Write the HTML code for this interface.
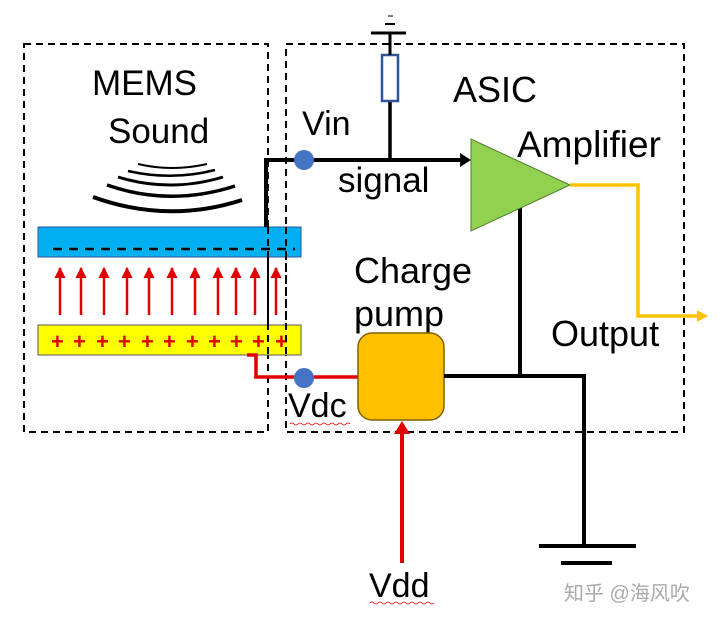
<!DOCTYPE html>
<html><head><meta charset="utf-8"><style>
html,body{margin:0;padding:0;background:#fff;}
svg{display:block;}
text{font-family:"Liberation Sans","Noto Sans CJK SC",sans-serif;}
</style></head><body>
<svg width="717" height="622" viewBox="0 0 717 622" xmlns="http://www.w3.org/2000/svg">
<defs>
<marker id="ar" viewBox="0 0 10 10" refX="9" refY="5" markerWidth="4.5" markerHeight="4.5" orient="auto"><path d="M0,0L10,5L0,10z" fill="#e00000"/></marker>
</defs>
<rect x="24" y="44" width="244" height="388" fill="none" stroke="#000" stroke-width="2" stroke-dasharray="7,5"/>
<rect x="286" y="44" width="398" height="388" fill="none" stroke="#000" stroke-width="2" stroke-dasharray="7,5"/>
<g fill="#000">
<text x="92" y="95" font-size="35">MEMS</text>
<text x="108" y="143" font-size="35">Sound</text>
<text x="453" y="102" font-size="36">ASIC</text>
<text x="302" y="135" font-size="34">Vin</text>
<text x="338" y="192" font-size="35">signal</text>
<text x="517" y="157" font-size="37">Amplifier</text>
<text x="354" y="283" font-size="36">Charge</text>
<text x="354" y="326" font-size="36">pump</text>
<text x="551" y="346" font-size="36">Output</text>
<text x="288" y="417" font-size="34">Vdc</text>
<text x="369" y="597" font-size="34">Vdd</text>
</g>
<path d="M290,424 q2,-2 4,0 t4,0 t4,0 t4,0 t4,0 t4,0 t4,0 t4,0 t4,0 t4,0 t4,0 t4,0 t4,0 t4,0 t4,0" stroke="#d00" fill="none" stroke-width="0.8"/>
<path d="M370,603 q2,-2 4,0 t4,0 t4,0 t4,0 t4,0 t4,0 t4,0 t4,0 t4,0 t4,0 t4,0 t4,0 t4,0 t4,0 t4,0 t4,0" stroke="#d00" fill="none" stroke-width="0.8"/>
<g fill="none" stroke="#000">
<path d="M138,164 Q172,172 207,164" stroke-width="2"/>
<path d="M128,171 Q172,181 215,170" stroke-width="2.5"/>
<path d="M118,177 Q170,193 223,177" stroke-width="3"/>
<path d="M107,185 Q170,207 235,186" stroke-width="3.5"/>
<path d="M93,197 Q168,224 242,200" stroke-width="4"/>
</g>
<rect x="38" y="227" width="263" height="30" fill="#00b0f0" stroke="#2f5597" stroke-width="1"/>
<line x1="53" y1="249" x2="295" y2="249" stroke="#000" stroke-width="2.5" stroke-dasharray="9,7"/>
<rect x="38" y="325" width="263" height="30" fill="#ffff00" stroke="#555" stroke-width="1"/>
<g font-size="22" font-weight="bold" style="fill:#e00000">
<text x="51" y="349">+</text><text x="73" y="349">+</text><text x="96" y="349">+</text><text x="118" y="349">+</text><text x="141" y="349">+</text><text x="163" y="349">+</text><text x="186" y="349">+</text><text x="208" y="349">+</text><text x="230" y="349">+</text><text x="252" y="349">+</text><text x="275" y="349">+</text>
</g>
<g stroke="#e00000" stroke-width="2.5" marker-end="url(#ar)">
<line x1="60" y1="315" x2="60" y2="268"/><line x1="81" y1="315" x2="81" y2="268"/><line x1="104" y1="315" x2="104" y2="268"/><line x1="127" y1="315" x2="127" y2="268"/><line x1="149" y1="315" x2="149" y2="268"/><line x1="172" y1="315" x2="172" y2="268"/><line x1="195" y1="315" x2="195" y2="268"/><line x1="218" y1="315" x2="218" y2="268"/><line x1="236" y1="315" x2="236" y2="268"/><line x1="255" y1="315" x2="255" y2="268"/><line x1="276" y1="315" x2="276" y2="268"/>
</g>
<line x1="268" y1="227" x2="268" y2="357" stroke="#000" stroke-width="2" stroke-dasharray="7,5"/>
<line x1="286" y1="227" x2="286" y2="357" stroke="#000" stroke-width="2" stroke-dasharray="7,5"/>
<polyline points="266,227 266,160 462,160" fill="none" stroke="#000" stroke-width="4"/>
<path d="M460,153 L471,160 L460,167z" fill="#000"/>
<line x1="390" y1="160" x2="390" y2="101" stroke="#000" stroke-width="3.5"/>
<rect x="382" y="55" width="16" height="46" fill="#fff" stroke="#2f5597" stroke-width="2.5"/>
<line x1="390" y1="55" x2="390" y2="32" stroke="#000" stroke-width="3"/>
<line x1="371" y1="33" x2="406" y2="33" stroke="#000" stroke-width="3"/>
<line x1="385" y1="24" x2="395" y2="24" stroke="#000" stroke-width="2"/>
<line x1="388" y1="16" x2="393" y2="16" stroke="#000" stroke-width="1"/>
<circle cx="304" cy="160" r="10" fill="#4472c4"/>
<line x1="520" y1="205" x2="520" y2="376" stroke="#000" stroke-width="4"/>
<polygon points="471,139 471,231 570,185" fill="#92d050" stroke="#507e32" stroke-width="1"/>
<polyline points="570,185 638,185 638,316 700,316" fill="none" stroke="#ffc000" stroke-width="3.5"/>
<path d="M697,310 L708,316 L697,322z" fill="#ffc000"/>
<polyline points="247,355 256,355 256,377 360,377" fill="none" stroke="#e00000" stroke-width="3.5"/>
<circle cx="304" cy="378" r="10" fill="#4472c4"/>
<rect x="358" y="333" width="86" height="87" rx="14" fill="#ffc000" stroke="#7f6000" stroke-width="1.5"/>
<polyline points="444,376 584,376 584,546" fill="none" stroke="#000" stroke-width="4"/>
<line x1="539" y1="546" x2="636" y2="546" stroke="#000" stroke-width="4"/>
<line x1="561" y1="563" x2="612" y2="563" stroke="#000" stroke-width="4"/>
<line x1="402" y1="563" x2="402" y2="432" stroke="#e00000" stroke-width="4"/>
<path d="M394,434 L402,421 L410,434z" fill="#e00000"/>
<text x="564" y="600" font-size="20" style="fill:#aaa">知乎 @海风吹</text>
</svg>
</body></html>
